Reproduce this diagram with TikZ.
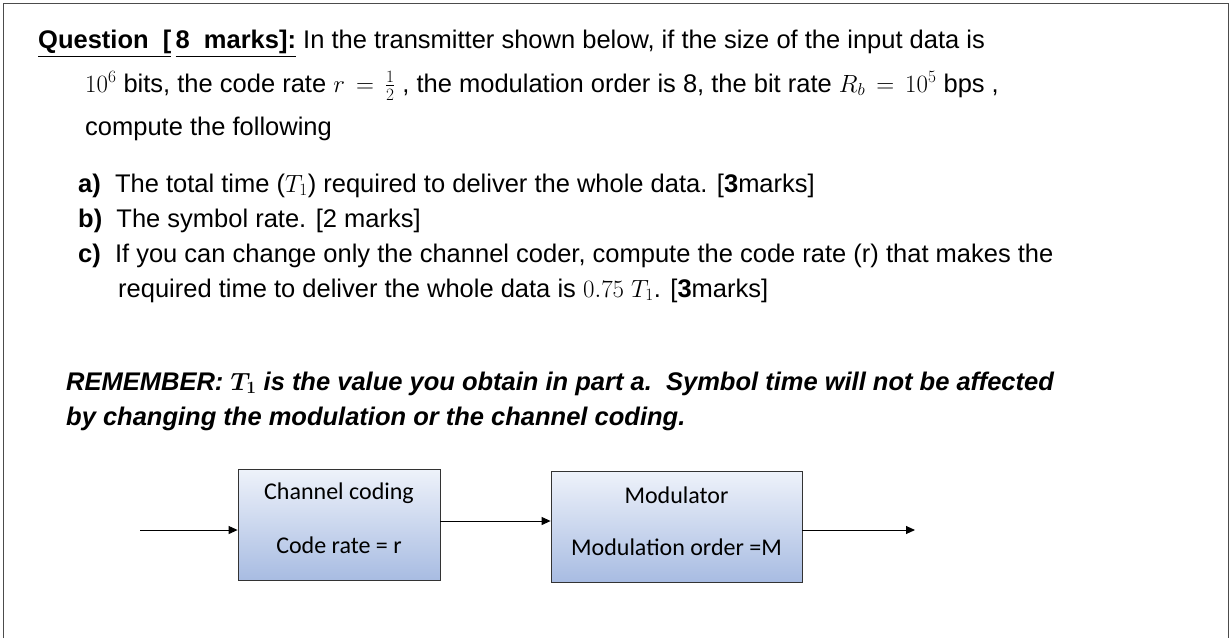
\documentclass[tikz,border=0pt]{standalone}
\usepackage{amsmath,bm}
\usepackage{fontspec}
\setmainfont{Liberation Sans}
\newfontfamily\boxfont{Carlito}
\usetikzlibrary{arrows.meta}
\definecolor{boxtop}{RGB}{238,242,250}
\definecolor{boxbot}{RGB}{168,188,226}
\begin{document}
\begin{tikzpicture}[x=1pt,y=-1pt,
  txt/.style={anchor=base west,inner sep=0pt,font=\fontsize{25.5}{30}\selectfont},
  blk/.style={draw=black!80,line width=0.8pt,top color=boxtop,bottom color=boxbot,inner sep=0pt},
  btxt/.style={inner sep=0pt,font=\boxfont\fontsize{24}{28}\selectfont},
  arr/.style={line width=1pt,-{Triangle[length=9pt,width=8pt]}}]
\useasboundingbox (0,0) rectangle (1231,638);
\draw[black!70,line width=1pt] (3,638) -- (3,3) -- (1228,3) -- (1228,638);
\node[txt] (l1) at (38,48) {\textbf{\underline{Question\ \ [}\,\underline{8\ \ marks]:}} In the transmitter shown below, if the size of the input data is};
\node[txt] (l2) at (85,92) {$10^6$ bits, the code rate $r\,=\,\frac{1}{2}$ , the modulation order is 8, the bit rate $R_b\,=\,10^5$ bps ,};
\node[txt] (l3) at (85,135) {compute the following};
\node[txt] (a) at (78,192) {\textbf{a)}\ \ The total time ($T_1$) required to deliver the whole data. [\textbf{3}marks]};
\node[txt] (b) at (78,227) {\textbf{b)}\ \ The symbol rate. [2 marks]};
\node[txt] (c1) at (78,262) {\textbf{c)}\ \ If you can change only the channel coder, compute the code rate (r) that makes the};
\node[txt] (c2) at (118,297) {required time to deliver the whole data is $0.75\ T_1$. [\textbf{3}marks]};
\node[txt] (r1) at (66,390) {\textbf{\itshape REMEMBER: $\bm{T_1}$ is the value you obtain in part a.\ \ Symbol time will not be affected}};
\node[txt] (r2) at (66,425) {\textbf{\itshape by changing the modulation or the channel coding.}};
\node[blk,minimum width=202pt,minimum height=111pt] (cc) at (339,524.5) {};
\node[btxt] (cct) at (339,493) {Channel coding};
\node[btxt] (ccr) at (339,545) {Code rate = r};
\node[blk,minimum width=251pt,minimum height=111pt] (md) at (676.5,526.5) {};
\node[btxt] (mdt) at (676.5,495) {Modulator};
\node[btxt] (mdo) at (676.5,547) {Modulation order =M};
\coordinate (in) at (140,530);
\coordinate (out) at (915,530);
\draw[arr] (in) -- (in -| cc.west);
\draw[arr] (cc.east |- 0,521) -- (md.west |- 0,521);
\draw[arr] (md.east |- out) -- (out);
\end{tikzpicture}
\end{document}
